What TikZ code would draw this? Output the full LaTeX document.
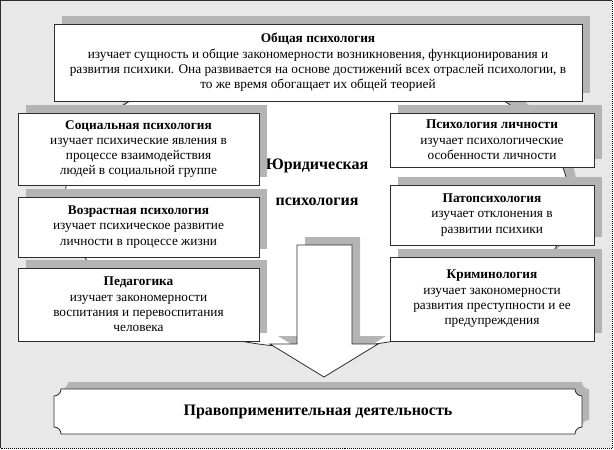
\documentclass[tikz,border=0pt]{standalone}
\usepackage{fontspec}
\setmainfont{Liberation Serif}
\usetikzlibrary{shapes.geometric,shadows}
\definecolor{bgc}{RGB}{232,232,232}
\definecolor{shc}{RGB}{180,180,180}
\definecolor{lnc}{RGB}{45,45,45}
\tikzset{
  sh/.style={drop shadow={shadow xshift=8pt, shadow yshift=8pt, opacity=1, fill=shc}},
  box/.style={draw=lnc, line width=0.8pt, fill=white, sh, inner sep=0pt,
    align=center, font=\fontsize{13.3}{15.3}\selectfont},
  jur/.style={font=\fontsize{16}{19}\selectfont\bfseries, anchor=base, inner sep=0pt},
}
\begin{document}
\begin{tikzpicture}[x=1pt,y=-1pt]
\useasboundingbox (0,0) rectangle (614,450);
% frame
\fill[bgc] (0,0) rectangle (612,448);
\draw[lnc, line width=0.8pt] (0.5,448) -- (0.5,0.5) -- (612,0.5);
\draw[black, line width=0.8pt, dash pattern=on 1pt off 1pt] (612,0.5) -- (612,448) -- (0.5,448);
% central ellipse
\node[ellipse, draw=lnc, line width=0.8pt, fill=white, sh, inner sep=0pt,
  minimum width=504pt, minimum height=296pt] (core) at (317,200) {};
\node[jur] (jur1) at (317,169) {Юридическая};
\node[jur] (jur2) at (317,205) {психология};
% boxes
\node[box, minimum width=528pt, minimum height=77pt] (general) at (318,62.5)
  {\textbf{Общая психология}\\изучает сущность и общие закономерности возникновения, функционирования и\\развития психики. Она развивается на основе достижений всех отраслей психологии, в\\то же время обогащает их общей теорией};
\node[box, minimum width=241pt, minimum height=72pt] (social) at (138.5,149)
  {\textbf{Социальная психология}\\изучает психические явления в\\процессе взаимодействия\\людей в социальной группе};
\node[box, minimum width=241pt, minimum height=60pt] (age) at (138.5,227)
  {\textbf{Возрастная психология}\\изучает психическое развитие\\личности в процессе жизни};
\node[box, minimum width=241pt, minimum height=73pt] (ped) at (138.5,304.5)
  {\textbf{Педагогика}\\изучает закономерности\\воспитания и перевоспитания\\человека};
\node[box, minimum width=204pt, minimum height=54pt] (lich) at (492,140)
  {\textbf{Психология личности}\\изучает психологические\\особенности личности};
\node[box, minimum width=204pt, minimum height=60pt] (pato) at (492,215)
  {\textbf{Патопсихология}\\изучает отклонения в\\развитии психики};
\node[box, minimum width=204pt, minimum height=84pt] (krim) at (492,299)
  {\textbf{Криминология}\\изучает закономерности\\развития преступности и ее\\предупреждения};
% block arrow
\path[draw=lnc, line width=0.8pt, fill=white, sh]
  (297,245) -- (352,245) -- (352,344) -- (378,344) -- (324,377) -- (270,344) -- (297,344) -- cycle;
% bottom plaque
\path[draw=lnc, line width=0.8pt, fill=white, drop shadow={shadow xshift=7pt, shadow yshift=7pt, opacity=1, fill=shc}]
  (61,389) -- (575,389) .. controls (575,392.9) and (578.1,396) .. (582,396)
  -- (582,427) .. controls (578.1,427) and (575,430.1) .. (575,434)
  -- (61,434) .. controls (61,430.1) and (57.9,427) .. (54,427)
  -- (54,396) .. controls (57.9,396) and (61,392.9) .. (61,389) -- cycle;
\node[font=\fontsize{16}{19}\selectfont\bfseries, inner sep=0pt] (law) at (318,411.5)
  {Правоприменительная деятельность};
\end{tikzpicture}
\end{document}
